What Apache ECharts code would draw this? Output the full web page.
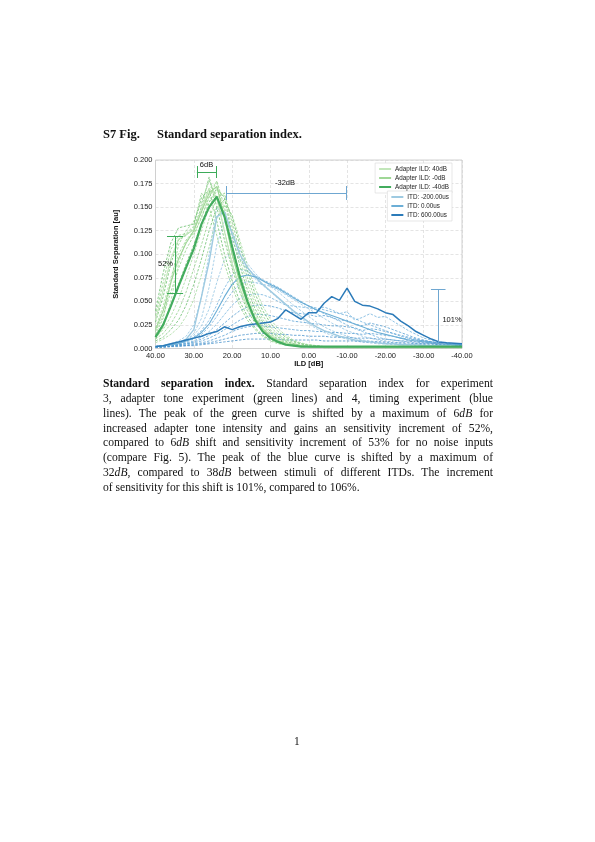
<!DOCTYPE html>
<html>
<head>
<meta charset="utf-8">
<script src="https://cdn.jsdelivr.net/npm/echarts@6/dist/echarts.min.js"></script>
<style>
  body { margin: 0; background: #fff; }
  #page { position: relative; width: 595px; height: 842px; overflow: hidden; font-family: "Liberation Serif", serif; color: #111; }
  #main { position: absolute; left: 0; top: 0; width: 595px; height: 842px; }
  .cap { position: absolute; top: 127px; font-size: 12.5px; font-weight: bold; white-space: nowrap; }
  .ln { position: absolute; left: 103px; width: 390px; font-size: 11.6px; line-height: 14px; white-space: nowrap; text-align: justify; text-align-last: justify; }
  .ln.last { text-align: left; text-align-last: left; }
  .pg { position: absolute; left: 294px; top: 735px; font-size: 11.5px; }
</style>
</head>
<body>
<div id="page">
  <div id="main"></div>
  <div class="cap" style="left:103px">S7 Fig.</div>
  <div class="cap" style="left:157px">Standard separation index.</div>
  <div class="ln" style="top:377px"><b>Standard separation index.</b> Standard separation index for experiment</div>
  <div class="ln" style="top:392px">3, adapter tone experiment (green lines) and 4, timing experiment (blue</div>
  <div class="ln" style="top:407px">lines). The peak of the green curve is shifted by a maximum of 6<i>dB</i> for</div>
  <div class="ln" style="top:422px">increased adapter tone intensity and gains an sensitivity increment of 52%,</div>
  <div class="ln" style="top:436px">compared to 6<i>dB</i> shift and sensitivity increment of 53% for no noise inputs</div>
  <div class="ln" style="top:451px">(compare Fig. 5). The peak of the blue curve is shifted by a maximum of</div>
  <div class="ln" style="top:466px">32<i>dB</i>, compared to 38<i>dB</i> between stimuli of different ITDs. The increment</div>
  <div class="ln last" style="top:481px">of sensitivity for this shift is 101%, compared to 106%.</div>
  <div class="pg">1</div>
</div>
<script>
// ILD grid of the adapter tone experiment (green)
var ildAdapter = [40, 38, 36, 34, 32, 30, 28, 26, 24, 22, 20, 18, 16, 14, 12, 10, 8, 6, 4, 2, 0, -4, -10, -20, -30, -40];
// ILD grid of the timing experiment (blue)
var ildTiming = [40, 38, 36, 34, 32, 30, 28, 26, 24, 22, 20, 18, 16, 14, 12, 10, 8, 6, 4, 2,
                 0, -2, -4, -6, -8, -10, -12, -14, -16, -18, -20, -22, -24, -26, -28, -30, -32, -34, -36, -38, -40];

// solid adapter curves
var adapter40 = [0.030,0.062,0.095,0.116,0.121,0.126,0.148,0.170,0.160,0.124, 0.090,0.064,0.044,0.030,0.020,0.012,0.008,0.005,0.003,0.002, 0.002,0.001,0.001,0.001,0.001,0.001];
var adapter0 = [0.020,0.040,0.070,0.095,0.112,0.125,0.145,0.165,0.172,0.140, 0.100,0.070,0.048,0.032,0.021,0.013,0.008,0.005,0.004,0.003, 0.002,0.001,0.001,0.001,0.001,0.001];
var adapterM40 = [0.012,0.025,0.045,0.066,0.086,0.106,0.132,0.150,0.161,0.140, 0.108,0.076,0.050,0.030,0.018,0.011,0.007,0.004,0.003,0.002, 0.002,0.002,0.002,0.002,0.002,0.002];

// dashed adapter runs
var adapterRuns = [
  [0.035,0.070,0.105,0.120,0.122,0.130,0.165,0.150,0.120,0.090, 0.065,0.045,0.030,0.020,0.013,0.008,0.005,0.004,0.003,0.002, 0.002,0.001,0.001,0.001,0.001,0.001],
  [0.028,0.055,0.090,0.115,0.120,0.128,0.150,0.182,0.150,0.115, 0.085,0.060,0.040,0.027,0.018,0.011,0.007,0.005,0.003,0.002, 0.002,0.001,0.001,0.001,0.001,0.001],
  [0.022,0.045,0.075,0.100,0.115,0.125,0.145,0.170,0.176,0.140, 0.100,0.072,0.050,0.034,0.022,0.014,0.009,0.006,0.004,0.003, 0.002,0.001,0.001,0.001,0.001,0.001],
  [0.018,0.035,0.060,0.085,0.105,0.120,0.140,0.160,0.178,0.150, 0.110,0.080,0.056,0.038,0.025,0.016,0.010,0.007,0.005,0.003, 0.002,0.001,0.001,0.001,0.001,0.001],
  [0.014,0.026,0.045,0.068,0.090,0.110,0.132,0.155,0.170,0.160, 0.120,0.088,0.062,0.042,0.028,0.018,0.012,0.008,0.005,0.003, 0.002,0.001,0.001,0.001,0.001,0.001],
  [0.012,0.020,0.034,0.052,0.075,0.100,0.125,0.150,0.168,0.162, 0.128,0.095,0.068,0.047,0.031,0.020,0.013,0.009,0.006,0.004, 0.003,0.002,0.001,0.001,0.001,0.001],
  [0.010,0.016,0.026,0.040,0.060,0.085,0.110,0.138,0.160,0.165, 0.135,0.102,0.075,0.052,0.035,0.023,0.015,0.010,0.007,0.005, 0.003,0.002,0.001,0.001,0.001,0.001],
  [0.008,0.012,0.020,0.030,0.046,0.068,0.095,0.125,0.150,0.158, 0.140,0.110,0.082,0.058,0.040,0.027,0.018,0.012,0.008,0.005, 0.004,0.002,0.001,0.001,0.001,0.001],
  [0.006,0.010,0.015,0.022,0.034,0.052,0.078,0.108,0.138,0.152, 0.142,0.115,0.088,0.064,0.045,0.031,0.021,0.014,0.009,0.006, 0.004,0.002,0.001,0.001,0.001,0.001],
  [0.015,0.032,0.070,0.110,0.125,0.135,0.155,0.178,0.160,0.125, 0.090,0.064,0.044,0.030,0.020,0.013,0.008,0.005,0.004,0.003, 0.002,0.001,0.001,0.001,0.001,0.001],
  [0.040,0.080,0.112,0.128,0.130,0.132,0.160,0.168,0.135,0.100, 0.072,0.050,0.034,0.022,0.014,0.009,0.006,0.004,0.003,0.002, 0.002,0.001,0.001,0.001,0.001,0.001],
  [0.010,0.022,0.050,0.090,0.115,0.122,0.138,0.162,0.172,0.145, 0.105,0.076,0.053,0.036,0.024,0.015,0.010,0.006,0.004,0.003, 0.002,0.001,0.001,0.001,0.001,0.001]
];

// solid timing curves
var itdM200 = [0.002,0.003,0.004,0.006,0.010,0.020,0.055,0.092,0.140,0.145, 0.122,0.100,0.086,0.076,0.068,0.061,0.054,0.047,0.040,0.034, 0.028,0.023,0.019,0.016,0.013,0.011,0.009,0.008,0.007,0.006, 0.005,0.005,0.004,0.004,0.004,0.003,0.003,0.003,0.003,0.002, 0.002];
var itd0 = [0.002,0.003,0.004,0.005,0.008,0.011,0.017,0.026,0.040,0.055, 0.068,0.076,0.078,0.076,0.072,0.068,0.064,0.059,0.054,0.049, 0.045,0.041,0.038,0.035,0.032,0.029,0.026,0.023,0.020,0.017, 0.015,0.013,0.011,0.009,0.008,0.007,0.006,0.005,0.005,0.004, 0.004];
var itd600 = [0.002,0.003,0.005,0.007,0.009,0.011,0.013,0.016,0.018,0.023, 0.020,0.023,0.025,0.026,0.027,0.028,0.032,0.041,0.036,0.031, 0.038,0.038,0.048,0.055,0.051,0.064,0.050,0.046,0.045,0.042, 0.038,0.036,0.029,0.024,0.018,0.014,0.010,0.007,0.006,0.0055, 0.005];

// dashed timing runs
var timingRuns = [
  [0.002,0.003,0.005,0.008,0.013,0.025,0.055,0.100,0.150,0.140, 0.115,0.095,0.082,0.074,0.067,0.060,0.053,0.046,0.039,0.032, 0.026,0.021,0.017,0.014,0.012,0.010,0.008,0.007,0.006,0.005, 0.005,0.004,0.004,0.004,0.003,0.003,0.003,0.003,0.002,0.002, 0.002],
  [0.002,0.003,0.004,0.006,0.009,0.016,0.032,0.065,0.110,0.135, 0.125,0.105,0.090,0.080,0.072,0.066,0.060,0.053,0.046,0.040, 0.034,0.028,0.023,0.019,0.016,0.013,0.011,0.009,0.008,0.007, 0.006,0.005,0.005,0.004,0.004,0.004,0.003,0.003,0.003,0.003, 0.003],
  [0.002,0.003,0.004,0.006,0.009,0.014,0.024,0.042,0.070,0.095, 0.102,0.095,0.085,0.078,0.072,0.067,0.062,0.057,0.052,0.047, 0.042,0.037,0.032,0.027,0.023,0.019,0.016,0.013,0.011,0.009, 0.008,0.007,0.006,0.005,0.005,0.004,0.004,0.004,0.003,0.003, 0.003],
  [0.002,0.003,0.004,0.005,0.008,0.012,0.019,0.030,0.046,0.064, 0.078,0.084,0.082,0.077,0.073,0.069,0.065,0.060,0.055,0.050, 0.045,0.041,0.037,0.033,0.029,0.025,0.021,0.018,0.015,0.012, 0.010,0.009,0.008,0.007,0.006,0.005,0.005,0.004,0.004,0.004, 0.003],
  [0.002,0.003,0.004,0.005,0.007,0.010,0.015,0.023,0.034,0.048, 0.060,0.068,0.071,0.070,0.068,0.066,0.063,0.058,0.053,0.049, 0.045,0.043,0.041,0.039,0.037,0.035,0.032,0.028,0.025,0.022, 0.019,0.016,0.013,0.011,0.009,0.008,0.007,0.006,0.005,0.005, 0.004],
  [0.002,0.003,0.003,0.004,0.006,0.008,0.012,0.018,0.026,0.036, 0.046,0.053,0.057,0.058,0.057,0.054,0.050,0.046,0.045,0.044, 0.043,0.041,0.044,0.041,0.037,0.039,0.030,0.033,0.037,0.033, 0.034,0.029,0.024,0.019,0.015,0.011,0.009,0.007,0.006,0.005, 0.004],
  [0.002,0.003,0.003,0.004,0.005,0.007,0.010,0.014,0.020,0.027, 0.034,0.040,0.044,0.046,0.046,0.045,0.043,0.040,0.038,0.037, 0.036,0.034,0.035,0.033,0.030,0.030,0.026,0.024,0.027,0.025, 0.023,0.020,0.017,0.014,0.011,0.009,0.007,0.006,0.005,0.004, 0.004],
  [0.002,0.002,0.003,0.004,0.005,0.006,0.008,0.011,0.015,0.020, 0.025,0.030,0.034,0.036,0.036,0.035,0.033,0.031,0.029,0.028, 0.027,0.026,0.025,0.024,0.024,0.023,0.022,0.019,0.021,0.020, 0.018,0.016,0.014,0.012,0.010,0.008,0.007,0.006,0.005,0.004, 0.004],
  [0.002,0.002,0.003,0.003,0.004,0.005,0.006,0.008,0.011,0.014, 0.018,0.021,0.023,0.024,0.024,0.023,0.022,0.021,0.020,0.019, 0.019,0.018,0.018,0.017,0.017,0.016,0.016,0.015,0.016,0.015, 0.014,0.013,0.011,0.010,0.009,0.008,0.007,0.006,0.005,0.004, 0.004],
  [0.001,0.002,0.002,0.003,0.003,0.004,0.005,0.006,0.008,0.010, 0.012,0.014,0.015,0.016,0.016,0.016,0.015,0.015,0.014,0.014, 0.013,0.013,0.013,0.012,0.012,0.012,0.011,0.011,0.011,0.010, 0.010,0.009,0.008,0.008,0.007,0.006,0.006,0.005,0.005,0.004, 0.004],
  [0.001,0.001,0.002,0.002,0.003,0.003,0.004,0.005,0.006,0.007, 0.008,0.009,0.010,0.010,0.010,0.010,0.010,0.009,0.009,0.009, 0.009,0.009,0.008,0.008,0.008,0.008,0.008,0.007,0.007,0.007, 0.007,0.006,0.006,0.006,0.005,0.005,0.005,0.004,0.004,0.004, 0.003]
];

var adapterNames = ['Adapter ILD: 40dB', 'Adapter ILD: -0dB', 'Adapter ILD: -40dB'];
var timingNames = ['ITD: -200.00us', 'ITD: 0.00us', 'ITD: 600.00us'];

var greenDash = ['#8fd088', '#6cc06f', '#a3da9c'];
var blueDash = ['#8cc0e0', '#6aaedb', '#4f9bd2', '#3f8cc8'];

function pairs(xs, ys) {
  return xs.map(function (x, i) { return [x, ys[i]]; });
}

var myChart = echarts.init(document.getElementById('main'));

var series = [];
// dashed runs
timingRuns.forEach(function (run, i) {
  series.push({
    type: 'line', name: 'timing run ' + i, data: pairs(ildTiming, run),
    symbol: 'none', silent: true, z: 2,
    lineStyle: { color: blueDash[Math.min(3, Math.floor(i / 3))], width: 0.75, type: [2.5, 1.5] }
  });
});
adapterRuns.forEach(function (run, i) {
  series.push({
    type: 'line', name: 'adapter run ' + i, data: pairs(ildAdapter, run),
    symbol: 'none', silent: true, z: 2,
    lineStyle: { color: greenDash[i % 3], width: 0.8, type: [2.5, 1.5] }
  });
});

// solid ones (legend)
var solid = [
  [timingNames[0], ildTiming, itdM200, '#9ecae1', 1.4],
  [timingNames[1], ildTiming, itd0, '#6baed6', 1.1],
  [timingNames[2], ildTiming, itd600, '#2c7bb9', 1.5],
  [adapterNames[0], ildAdapter, adapter40, '#c2e6ba', 1.1],
  [adapterNames[1], ildAdapter, adapter0, '#9fd796', 1.1],
  [adapterNames[2], ildAdapter, adapterM40, '#43ac5e', 2.2]
];
solid.forEach(function (s) {
  series.push({
    type: 'line', name: s[0], data: pairs(s[1], s[2]),
    symbol: 'none', z: 4,
    itemStyle: { color: s[3] },
    lineStyle: { color: s[3], width: s[4] }
  });
});

// bracket annotations
var labelPoint = {
  symbol: 'rect', symbolSize: 1, itemStyle: { color: 'rgba(0,0,0,0)' },
  label: { show: true, position: 'inside', color: '#111', fontSize: 7.5, fontFamily: 'Liberation Sans', formatter: function (p) { return p.name; } }
};
function seg(a, b) { return [{ coord: a }, { coord: b }]; }

series.push({
  type: 'line', name: 'green notes', data: [], z: 6, silent: true,
  markLine: {
    symbol: 'none', silent: true, animation: false, label: { show: false },
    lineStyle: { color: '#3dab5a', width: 1, type: 'solid' },
    data: [
      seg([29.2, 0.1873], [24.2, 0.1873]),
      seg([29.2, 0.1809], [29.2, 0.1936]),
      seg([24.2, 0.1809], [24.2, 0.1936]),
      seg([34.9, 0.119], [34.9, 0.059]),
      seg([37.0, 0.119], [32.8, 0.119]),
      seg([37.0, 0.059], [32.8, 0.059])
    ]
  },
  markPoint: Object.assign({ data: [{ name: '6dB', coord: [26.7, 0.1952] }, { name: '52%', coord: [37.4, 0.0897] }] }, labelPoint)
});
series.push({
  type: 'line', name: 'blue notes', data: [], z: 6, silent: true,
  markLine: {
    symbol: 'none', silent: true, animation: false, label: { show: false },
    lineStyle: { color: '#6fa7d1', width: 1, type: 'solid' },
    data: [
      seg([21.6, 0.165], [-9.8, 0.165]),
      seg([21.6, 0.1576], [21.6, 0.1724]),
      seg([-9.8, 0.1576], [-9.8, 0.1724]),
      seg([-33.8, 0.063], [-33.8, 0.006]),
      seg([-31.9, 0.063], [-35.7, 0.063]),
      seg([-31.9, 0.006], [-35.7, 0.006])
    ]
  },
  markPoint: Object.assign({ data: [{ name: '-32dB', coord: [6.2, 0.1756] }, { name: '101%', coord: [-37.4, 0.0302] }] }, labelPoint)
});

var legendBase = {
  orient: 'vertical', right: 143, itemWidth: 12, itemHeight: 6, itemGap: 3,
  padding: [3, 3, 3, 3], backgroundColor: '#fff', borderColor: '#d6d6d6', borderWidth: 0.6,
  selectedMode: false,
  itemStyle: { opacity: 0 },
  textStyle: { fontSize: 6.3, color: '#222', fontFamily: 'Liberation Sans', padding: [0, 0, 0, -1] }
};

var option = {
  animation: false,
  textStyle: { fontFamily: 'Liberation Sans' },
  legend: [
    Object.assign({ top: 163, data: adapterNames }, legendBase),
    Object.assign({ top: 191, data: timingNames }, legendBase)
  ],
  grid: {
    left: 155.5, top: 160, width: 306.5, height: 188.5,
    show: true, borderColor: '#c4c4c4', borderWidth: 0.8, backgroundColor: '#fff'
  },
  xAxis: {
    type: 'value', inverse: true, min: -40, max: 40, interval: 10,
    name: 'ILD [dB]', nameLocation: 'middle', nameGap: 11,
    nameTextStyle: { fontSize: 7.5, fontWeight: 'bold', color: '#111' },
    axisLine: { show: false }, axisTick: { show: false },
    axisLabel: { fontSize: 7.5, color: '#222', margin: 3, formatter: function (v) { return v.toFixed(2); } },
    splitLine: { lineStyle: { color: '#d2d2d2', width: 0.6, type: [3, 2] } }
  },
  yAxis: {
    type: 'value', min: 0, max: 0.2, interval: 0.025,
    name: 'Standard Separation [au]', nameLocation: 'middle', nameGap: 36,
    nameTextStyle: { fontSize: 7.5, fontWeight: 'bold', color: '#111' },
    axisLine: { show: false }, axisTick: { show: false },
    axisLabel: { fontSize: 7.5, color: '#222', margin: 3, formatter: function (v) { return v.toFixed(3); } },
    splitLine: { lineStyle: { color: '#d2d2d2', width: 0.6, type: [3, 2] } }
  },
  series: series
};

myChart.setOption(option);
</script>
</body>
</html>
